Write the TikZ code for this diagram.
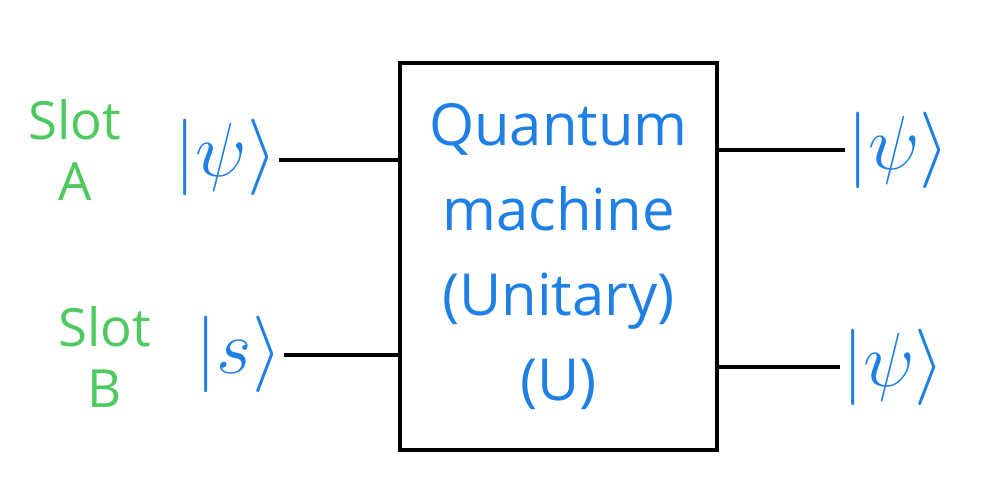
\documentclass[tikz,border=0pt]{standalone}
\usepackage{fontspec}
\setmainfont{Open Sans}
\usetikzlibrary{positioning}
\definecolor{inkblue}{HTML}{1E80E4}
\definecolor{inkgreen}{HTML}{4DC95E}
\newcommand{\bigket}[1]{\scalebox{1.75}{$|#1\rangle$}}
\tikzset{ket/.style = {text=inkblue, inner sep=1pt, font=\Huge}}
\tikzset{slotlabel/.style = {text=inkgreen, align=center, font=\fontsize{30}{35}\selectfont}}
\tikzset{wire/.style = {line width=1.8pt}}

\begin{document}
\begin{tikzpicture}[x=0.02cm,y=-0.02cm]
	\useasboundingbox (0,0) rectangle (992,498);
	\node [draw, line width=2.4pt, minimum width=6.34cm, minimum height=7.74cm,
	       text=inkblue, align=center, font=\fontsize{33}{48.5}\selectfont] (machine) at (558.5,256.5)
	       {Quantum\\machine\\(Unitary)\\(U)};
	\node [slotlabel] (slotA) at (75,150) {Slot\\A};
	\node [slotlabel] (slotB) at (105,357) {Slot\\B};
	\node [ket, anchor=east] (psiIn) at (279,157) {\bigket{\psi}};
	\node [ket, anchor=east] (sIn) at (284,354) {\bigket{s}};
	\node [ket, anchor=west] (psiOutA) at (845,150) {\bigket{\psi}};
	\node [ket, anchor=west] (psiOutB) at (840,367) {\bigket{\psi}};
	\coordinate (inA) at (400,160);
	\coordinate (inB) at (400,355);
	\coordinate (outA) at (717,150);
	\coordinate (outB) at (717,367);
	\draw [wire] (psiIn.east |- inA) -- (inA);
	\draw [wire] (sIn.east |- inB) -- (inB);
	\draw [wire] (outA) -- (psiOutA.west |- outA);
	\draw [wire] (outB) -- (psiOutB.west |- outB);
\end{tikzpicture}
\end{document}
